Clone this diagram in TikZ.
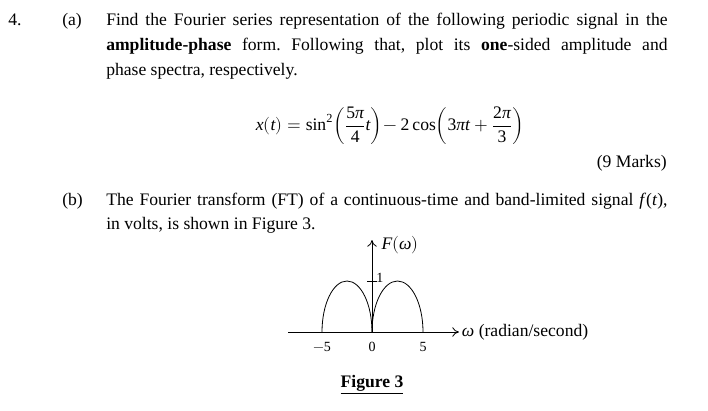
\documentclass[tikz,border=0pt]{standalone}
\usetikzlibrary{arrows.meta}
\usepackage{fontspec}
\setmainfont{Liberation Serif}
\usepackage{amsmath}
\usepackage{unicode-math}
\setmathfont{Latin Modern Math}
\setmathfont[range=it]{Liberation Serif Italic}
\setmathfont[range=up]{Liberation Serif}
\frenchspacing
\begin{document}
\begin{tikzpicture}[x=0.75pt,y=-0.75pt,font=\fontsize{13.2}{15}\selectfont,
  txt/.style={anchor=base west,inner sep=0},
  ax/.style={line width=0.6pt},
  curve/.style={line width=0.6pt},
  small/.style={font=\fontsize{10.5}{12}\selectfont}]
\useasboundingbox (0,0) rectangle (708,411);
\node[txt] (n4) at (8,25) {4.};
\node[txt] (na) at (62,25) {(a)};
\node[txt] (l1) at (106,25) {\makebox[421pt][s]{Find the Fourier series representation of the following periodic signal in the}};
\node[txt] (l2) at (106,50) {\makebox[421pt][s]{\textbf{amplitude-phase} form. Following that, plot its \textbf{one}-sided amplitude and}};
\node[txt] (l3) at (106,75) {phase spectra, respectively.};
\node (eq) at (390,126) {$x(t)=\sin^2\!\left(\dfrac{5\pi}{4}t\right)\!-2\cos\!\left(3\pi t+\dfrac{2\pi}{3}\right)$};
\node[anchor=base east,inner sep=0] (mk) at (667,167) {(9 Marks)};
\node[txt] (nb) at (62,205) {(b)};
\node[txt] (m1) at (106,205) {\makebox[421pt][s]{The Fourier transform (FT) of a continuous-time and band-limited signal \textit{f}(\textit{t}),}};
\node[txt] (m2) at (106,229) {in volts, is shown in Figure 3.};
% graph
\coordinate (o) at (372,332);
\coordinate (xl) at (288,332);
\coordinate (xr) at (459,332);
\coordinate (yt) at (372,240);
\draw[ax,-{To[length=5pt,width=7pt]}] (xl) -- (xr);
\draw[ax,-{To[length=5pt,width=7pt]}] (o) -- (yt);
\node[anchor=west,inner sep=2pt] (xlab) at (xr) {$\omega$ (radian/second)};
\node[anchor=south west,inner sep=1pt] (ylab) at (380,255) {$F(\omega)$};
\draw[ax] (367,281) -- (377,281);
\node[small,anchor=west,inner sep=0pt] (one) at (376,278) {1};
\draw[curve] (322,332) arc[start angle=180,end angle=360,x radius=25,y radius=51];
\draw[curve] (372,332) arc[start angle=180,end angle=360,x radius=25.5,y radius=51];
\node[small] (tm5) at (322,347) {$-5$};
\node[small] (t0) at (372,347) {0};
\node[small] (t5) at (423,347) {5};
\node (fig) at (372,385) {\textbf{\underline{Figure 3}}};
\end{tikzpicture}
\end{document}
